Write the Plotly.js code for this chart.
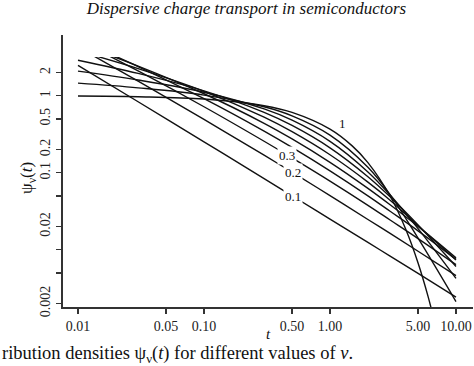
<!DOCTYPE html>
<html>
<head>
<meta charset="utf-8">
<script src="https://cdn.plot.ly/plotly-3.0.1.min.js"></script>
<style>html,body{margin:0;padding:0;background:#fff;}#chart{width:474px;height:366px;}</style>
</head>
<body>
<div id="chart"></div>
<script>
// time grid shared by the curves nu = 0.1 ... 0.9
const t = [0.01, 0.03, 0.1, 0.3, 0.5, 1, 2, 3, 5, 10];
// psi_nu(t)
const psi01 = [2.48, 0.835, 0.252, 0.0840, 0.0502, 0.0250, 0.01245, 0.00826, 0.00492, 0.00242];
const psi02 = [4.29, 1.544, 0.492, 0.1689, 0.1015, 0.0505, 0.0247, 0.0163, 0.00955, 0.0046];
const psi03 = [5.29, 2.096, 0.7195, 0.2563, 0.1558, 0.0778, 0.0377, 0.0243, 0.01395, 0.0064];
const psi04 = [5.36, 2.393, 0.9147, 0.3465, 0.2129, 0.1056, 0.0501, 0.0316, 0.0176, 0.00749];
const psi05 = [4.745, 2.426, 1.0605, 0.4381, 0.2747, 0.1366, 0.0627, 0.0384, 0.0201, 0.00784];
const psi06 = [3.829, 2.249, 1.142, 0.5270, 0.3410, 0.1711, 0.0755, 0.0440, 0.0205, 0.00735];
const psi07 = [2.894, 1.948, 1.156, 0.6076, 0.4106, 0.2104, 0.0887, 0.0486, 0.0209, 0.00606];
const psi08 = [2.088, 1.601, 1.110, 0.6734, 0.4809, 0.2557, 0.1025, 0.0514, 0.0188, 0.00425];
const psi09 = [1.456, 1.2655, 1.020, 0.7187, 0.5478, 0.3082, 0.1177, 0.0520, 0.0141, 0.00212];
// nu = 1 curve
const t1 = [0.01, 0.03, 0.1, 0.3, 0.5, 1, 1.5, 2, 3, 4, 5, 6, 7];
const psi1 = [0.990, 0.970, 0.905, 0.741, 0.6065, 0.3679, 0.2231, 0.1353, 0.0498, 0.0183, 0.00674, 0.00248, 0.000912];

const series = [psi01, psi02, psi03, psi04, psi05, psi06, psi07, psi08, psi09];
const names = ['0.1','0.2','0.3','0.4','0.5','0.6','0.7','0.8','0.9'];

// tick labels
const xTickVals = [0.01, 0.05, 0.1, 0.5, 1, 5, 10];
const xTickText = ['0.01', '0.05', '0.10', '0.50', '1.00', '5.00', '10.00'];
const yTickVals = [0.002, 0.02, 0.1, 0.2, 0.5, 1, 2];
const yTickText = ['0.002', '0.02', '0.1', '0.2', '0.5', '1', '2'];
const yMinorVals = [0.005, 0.01, 0.05];

const lineStyle = {color: '#111', width: 1.4, shape: 'spline'};
const traces = series.map((s, i) => ({
  x: t, y: s, type: 'scatter', mode: 'lines', name: names[i],
  line: lineStyle, showlegend: false, hoverinfo: 'skip'
}));
traces.push({x: t1, y: psi1, type: 'scatter', mode: 'lines', name: '1',
  line: lineStyle, showlegend: false, hoverinfo: 'skip'});

const serif = 'Liberation Serif, Times New Roman, serif';
const axisCommon = {
  type: 'log', showgrid: false, zeroline: false,
  showline: true, linecolor: '#333', linewidth: 2,
  ticks: 'outside', ticklen: 5, tickwidth: 1.5, tickcolor: '#333',
  tickfont: {family: serif, size: 14, color: '#222'}
};

const layout = {
  width: 474, height: 366,
  margin: {l: 63, r: 1, t: 57, b: 59},
  paper_bgcolor: '#fff', plot_bgcolor: '#fff',
  title: {text: '<i>Dispersive charge transport in semiconductors</i>',
    font: {family: serif, size: 17, color: '#111'},
    x: 0.52, xanchor: 'center', y: 0.978, yanchor: 'middle'},
  xaxis: Object.assign({}, axisCommon, {
    range: [-2.119, 1.135], tickmode: 'array', tickvals: xTickVals, ticktext: xTickText, tickangle: 0
  }),
  yaxis: Object.assign({}, axisCommon, {
    range: [-2.744, 0.503], tickmode: 'array', tickvals: yTickVals, ticktext: yTickText, tickangle: -90,
    minor: {tickmode: 'array', tickvals: yMinorVals, ticks: 'outside', ticklen: 5, tickwidth: 1.5,
            tickcolor: '#333', showgrid: false}
  }),
  shapes: [
    {type: 'line', xref: 'paper', yref: 'paper', x0: -0.0024, x1: -0.0024, y0: 1, y1: 1.088,
     line: {color: '#333', width: 2}}
  ],
  annotations: [
    {text: 'ψ<sub>ν</sub>(<i>t</i>)', xref: 'paper', yref: 'paper', x: -0.0854, y: 0.516,
     textangle: -90, showarrow: false, font: {family: serif, size: 17, color: '#111'},
     xanchor: 'center', yanchor: 'middle'},
    {text: '<i>t</i>', xref: 'paper', yref: 'paper', x: 0.5, y: -0.108,
     showarrow: false, font: {family: serif, size: 15, color: '#111'},
     xanchor: 'center', yanchor: 'middle'},
    {text: 'ribution densities ψ<sub>ν</sub>(<i>t</i>) for different values of <i>ν</i>.',
     xref: 'paper', yref: 'paper', x: -0.1537, y: -0.188, xanchor: 'left', yanchor: 'middle',
     showarrow: false, font: {family: serif, size: 18.5, color: '#111'}},
    {text: '1', x: 0.098, y: -0.358, xref: 'x', yref: 'y', showarrow: false,
     font: {family: serif, size: 13, color: '#111'}},
    {text: '0.3', x: -0.344, y: -0.770, xref: 'x', yref: 'y', showarrow: false, bgcolor: '#fff',
     font: {family: serif, size: 13, color: '#111'}},
    {text: '0.2', x: -0.296, y: -1.0, xref: 'x', yref: 'y', showarrow: false, bgcolor: '#fff',
     font: {family: serif, size: 13, color: '#111'}},
    {text: '0.1', x: -0.291, y: -1.312, xref: 'x', yref: 'y', showarrow: false, bgcolor: '#fff',
     font: {family: serif, size: 13, color: '#111'}}
  ]
};

Plotly.newPlot('chart', traces, layout, {displayModeBar: false, staticPlot: true});
</script>
</body>
</html>
